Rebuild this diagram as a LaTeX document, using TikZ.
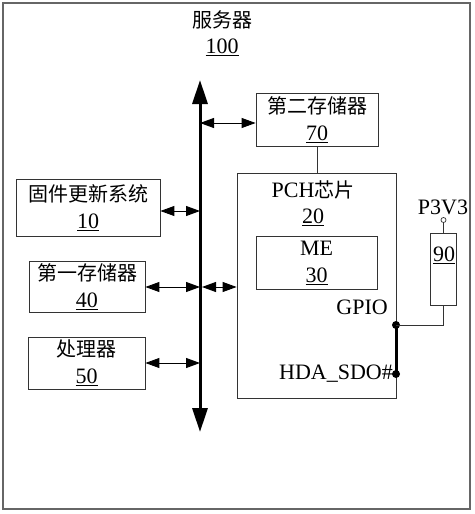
\documentclass[tikz,border=0pt]{standalone}
\usepackage{fontspec}
\setmainfont{Liberation Serif}
\newfontfamily\cjk{Noto Sans CJK SC}
\newcommand\zh[1]{{\cjk\fontsize{20}{27}\selectfont #1}}
\usetikzlibrary{arrows.meta}
\tikzset{
 txt/.style={font=\fontsize{22}{27}\selectfont},
 box/.style={draw=black!80, line width=0.8pt, inner sep=0pt, align=center, txt},
 lbl/.style={inner sep=0pt, txt},
 dbl/.style={line width=0.9pt, {Triangle[length=14pt,width=10pt]}-{Triangle[length=14pt,width=10pt]}},
 bus/.style={line width=3pt, {Triangle[length=24pt,width=15pt]}-{Triangle[length=24pt,width=15pt]}},
 dot/.style={circle, fill=black, inner sep=0pt, minimum size=8pt},
}
\begin{document}
\begin{tikzpicture}[x=1pt,y=-1pt]
\useasboundingbox (0,0) rectangle (474,514);
\draw[black!60, line width=1.3pt] (3,3) rectangle (470,509);
\node[lbl] (t1) at (222,20) {\zh{服务器}};
\node[lbl] (t2) at (222,47) {\underline{100}};
% bus
\coordinate (bt) at (200,80);
\coordinate (bb) at (200,432);
\draw[bus] (bb) -- (bt);
% boxes
\node[box, minimum width=144pt, minimum height=57pt] (fw) at (88,207.5) {\zh{固件更新系统}\\\underline{10}};
\node[box, minimum width=116pt, minimum height=51pt] (m1) at (87,286.5) {\zh{第一存储器}\\\underline{40}};
\node[box, minimum width=117pt, minimum height=52pt] (cpu) at (86.5,363) {\zh{处理器}\\\underline{50}};
\node[box, minimum width=122pt, minimum height=53pt] (m2) at (317,119.5) {\zh{第二存储器}\\\underline{70}};
\node[box, minimum width=159pt, minimum height=225pt] (pch) at (316.5,285.5) {};
\node[lbl] (pcht) at (313,190) {PCH\zh{芯片}};
\node[lbl] (pchn) at (313,217) {\underline{20}};
\node[box, minimum width=121pt, minimum height=53pt] (me) at (316.5,262.5) {ME\\\underline{30}};
\node[lbl, anchor=east] (gpio) at (388,307) {GPIO};
\node[lbl, anchor=east] (hda) at (393,374) {HDA\_SDO\#};
\node[dot] (d1) at (396,325) {};
\node[dot] (d2) at (396,374) {};
\draw[line width=3pt] (d1.center) -- (d2.center);
% resistor
\node[lbl] (p3) at (443,207) {P3V3};
\node[circle, draw=black!80, line width=0.7pt, inner sep=0pt, minimum size=5pt] (vc) at (443.5,220) {};
\node[box, minimum width=26pt, minimum height=72pt] (res) at (443.5,269) {};
\node[lbl] (rn) at (444,255) {\underline{90}};
\draw[black!80, line width=0.8pt] (vc) -- (res.north);
\draw[black!80, line width=0.8pt] (res.south) |- (d1.center);
\draw[black!80, line width=0.8pt] (m2.south) -- (pch.north -| m2.south);
% bus arrows
\coordinate (a1) at (200,211);
\coordinate (a2) at (200,287);
\coordinate (a3) at (200,363);
\coordinate (a4) at (200,123);
\draw[dbl] (fw.east |- a1) -- (a1);
\draw[dbl] (m1.east |- a2) -- (a2);
\draw[dbl] (cpu.east |- a3) -- (a3);
\draw[dbl] (a4) -- (m2.west |- a4);
\draw[dbl] ([xshift=2pt]a2) -- (pch.west |- a2);
\end{tikzpicture}
\end{document}
